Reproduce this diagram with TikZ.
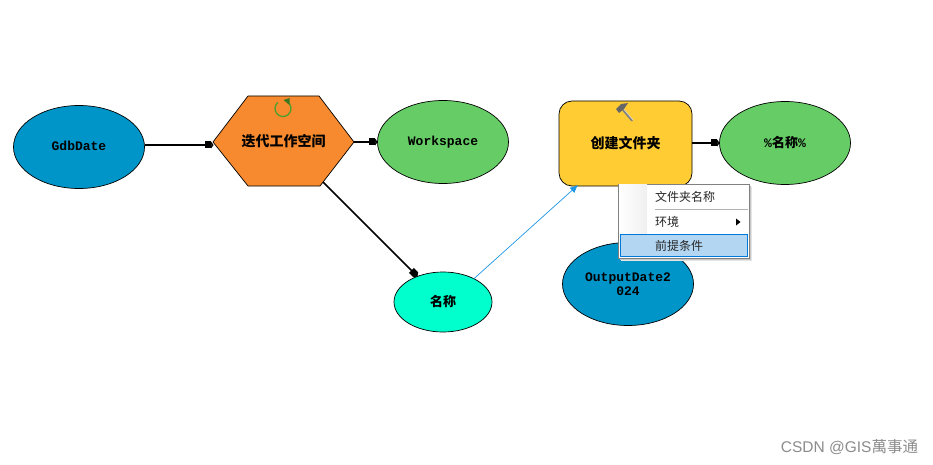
\documentclass[tikz,border=0pt]{standalone}
\usepackage{fontspec}
\setmainfont{Liberation Sans}
\setmonofont{Liberation Mono}
\newfontfamily\cjk{Noto Sans CJK SC}
\usetikzlibrary{arrows.meta,shapes.geometric}
\definecolor{dsblue}{HTML}{0095C8}
\definecolor{dsgreen}{HTML}{66CC66}
\definecolor{dsorange}{HTML}{F78A2E}
\definecolor{dsyellow}{HTML}{FFCC33}
\definecolor{dsaqua}{HTML}{00FFCC}
\definecolor{linkblue}{HTML}{1E96E6}
\definecolor{menusel}{HTML}{B3D7F3}
\definecolor{menuedge}{HTML}{0078D7}
\definecolor{loopgreen}{HTML}{4F9E2C}
\tikzset{
  x=1pt,y=-1pt,
  every node/.style={inner sep=0pt,outer sep=0pt},
  elem/.style={draw=black,line width=0.7pt,ellipse,align=center,font=\ttfamily\bfseries\fontsize{13}{14}\selectfont},
  cjktext/.style={font=\cjk\bfseries\fontsize{14}{15}\selectfont},
  flow/.style={draw=black,line width=1.5pt,-{Rectangle[length=6pt,width=7pt,sep=0pt] Triangle[length=2.5pt,width=7pt]}},
  prefl/.style={draw=linkblue,line width=0.7pt,-{Latex[length=8pt,width=7pt]}},
  menutext/.style={anchor=west,font=\cjk\fontsize{12}{14}\selectfont,text=black!85},
}
\begin{document}
\begin{tikzpicture}
\useasboundingbox (0,0) rectangle (933,465);
% hexagon tool
\filldraw[fill=dsorange,draw=black,line width=0.7pt]
  (213,142) -- (248,96) -- (319,96) -- (354,142) -- (320,186) -- (248,186) -- cycle;
\node[cjktext,minimum width=141pt,minimum height=90pt] (hex) at (283.5,141.5) {迭代工作空间};
\coordinate (hexout) at (323,182);
\coordinate (hexin) at (213.5,145);
% ellipses
\node[elem,fill=dsblue,minimum width=131pt,minimum height=83pt] (gdb) at (79,147) {\raisebox{2pt}{GdbDate}};
\coordinate (gdbout) at (144.5,145);
\node[elem,fill=dsgreen,minimum width=131pt,minimum height=83pt] (ws) at (443,142) {Workspace};
\node[elem,fill=dsaqua,minimum width=98pt,minimum height=60pt] (nm) at (443,302) {\cjk 名称};
\node[elem,fill=dsgreen,minimum width=131pt,minimum height=83pt] (pct) at (785,143) {\%{\cjk 名称}\%};
\node[elem,fill=dsblue,minimum width=131pt,minimum height=83pt] (out) at (628,284) {OutputDate2\\024};
% rounded tool
\node[cjktext,draw=black,line width=0.7pt,fill=dsyellow,rounded corners=13pt,minimum width=133pt,minimum height=85pt] (mk) at (625.5,143.5) {创建文件夹};
\coordinate (mkin) at (578,185);
% connectors
\draw[flow] (gdbout) -- (hexin);
\draw[flow] (hex.east |- ws) -- (ws);
\draw[flow] (mk.east |- pct) -- (pct);
\draw[flow] (hexout) -- (nm);
\draw[prefl] (nm.37) -- (mkin);
% loop icon
\draw[draw=loopgreen,line width=1.3pt] (277.9,102.4) arc[start angle=130,end angle=420,radius=8pt];
\fill[black!25!loopgreen] (283.5,100) -- (289.5,98) -- (289.5,105) -- cycle;
% hammer icon
\draw[draw=black!50,line width=2pt,line cap=round] (623,110) -- (632,120.5);
\draw[draw=white!85!black,line width=0.6pt] (624,109.5) -- (633,120);
\fill[black!60] (616,109) -- (621,104) -- (628,103) -- (624,109) -- (619,113) -- cycle;
% context menu
\fill[black!10] (621,187) rectangle (752,261);
\fill[black!22] (620,186) rectangle (751,259.5);
\node[draw=black!50,line width=0.8pt,fill=white,minimum width=131pt,minimum height=74pt] (menu) at (683.5,221) {};
\shade[left color=white,right color=black!6] (619,184.5) rectangle (647,233);
\coordinate (sepa) at (655,209);
\coordinate (sepb) at (748,209);
\draw[black!30,line width=0.7pt] (sepa) -- (sepb);
\node[draw=menuedge,line width=0.8pt,fill=menusel,minimum width=127pt,minimum height=22pt] (sel) at (683.5,245) {};
\node[menutext] (m1) at (655,197) {文件夹名称};
\node[menutext] (m2) at (655,222) {环境};
\node[menutext] (m3) at (655,246) {前提条件};
\fill[black] (736,218.5) -- (740.5,222) -- (736,225.5) -- cycle;
% watermark
\node[anchor=east,text=black!45,font=\fontsize{15.5}{17}\selectfont] (wm) at (918,447) {CSDN @GIS{\cjk 萬事通}};
\end{tikzpicture}
\end{document}
